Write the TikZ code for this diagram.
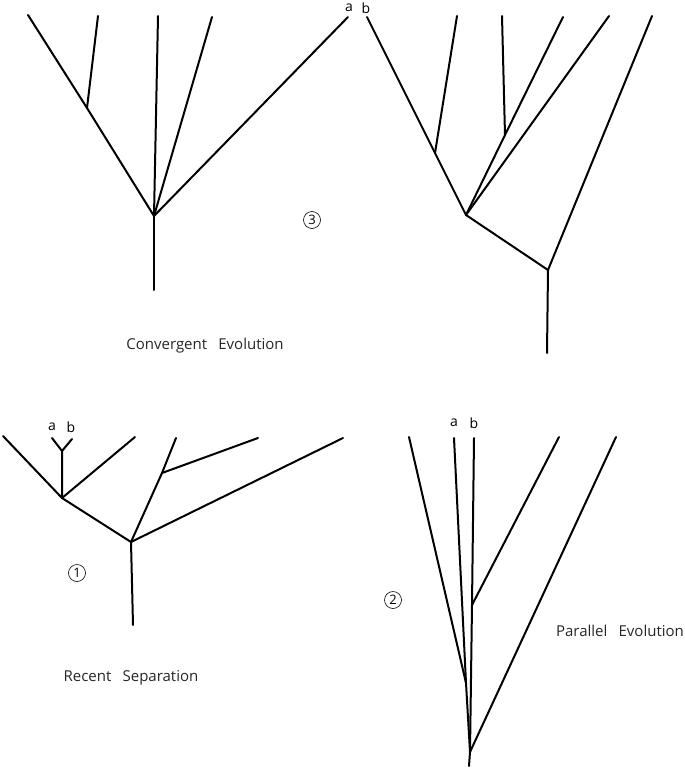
\documentclass[tikz,border=0pt]{standalone}
\usepackage{fontspec}
\setmainfont{Open Sans}
\begin{document}
\begin{tikzpicture}[x=1pt,y=-1pt,
  br/.style={line width=2pt, line cap=round},
  lab/.style={font=\fontsize{15}{17}\selectfont, text=black!85, inner sep=0pt},
  tip/.style={font=\fontsize{14}{16}\selectfont, inner sep=0pt},
  num/.style={circle, draw, line width=0.6pt, inner sep=0.6pt, minimum size=17pt, font=\fontsize{13}{14}\selectfont}]
\useasboundingbox (0,0) rectangle (685,768);
% ---- Tree 3a (top left)
\coordinate (A0) at (154,290);
\coordinate (Ar) at (154,216);
\coordinate (Ak) at (87,108);
\coordinate (A1) at (28,15);
\coordinate (A2) at (98,16);
\coordinate (A3) at (158,16);
\coordinate (A4) at (212,17);
\coordinate (A5) at (348,17);
\draw[br] (A0) -- (Ar);
\draw[br] (Ar) -- (Ak) -- (A1);
\draw[br] (Ak) -- (A2);
\draw[br] (Ar) -- (A3);
\draw[br] (Ar) -- (A4);
\draw[br] (Ar) -- (A5);
\node[tip] (la1) at (349,8) {a};
\node[tip] (lb1) at (366,8) {b};
\node[num] (n3) at (312,220) {3};
\node[lab] (t3) at (205,346) {Convergent\hspace{0.75em}Evolution};
% ---- Tree 3b (top right)
\coordinate (B0) at (547,353);
\coordinate (Bl) at (548,270);
\coordinate (Br) at (466,215);
\coordinate (Bk) at (435,153);
\coordinate (Bm) at (505,135);
\coordinate (B1) at (367,17);
\coordinate (B2) at (457,16);
\coordinate (B3) at (502,16);
\coordinate (B4) at (563,17);
\coordinate (B5) at (609,16);
\coordinate (B6) at (652,16);
\draw[br] (B0) -- (Bl) -- (Br);
\draw[br] (Br) -- (Bk) -- (B1);
\draw[br] (Bk) -- (B2);
\draw[br] (Br) -- (Bm) -- (B4);
\draw[br] (Bm) -- (B3);
\draw[br] (Br) -- (B5);
\draw[br] (Bl) -- (B6);
% ---- Tree 1 (bottom left)
\coordinate (C0) at (133,625);
\coordinate (Cr) at (131,542);
\coordinate (Cn) at (62,498);
\coordinate (Cy) at (62,451);
\coordinate (Ca) at (52,438);
\coordinate (Cb) at (72,439);
\coordinate (C1) at (3,436);
\coordinate (C2) at (135,437);
\coordinate (Ck) at (162,473);
\coordinate (C3) at (176,438);
\coordinate (C4) at (258,438);
\coordinate (C5) at (343,438);
\draw[br] (C0) -- (Cr) -- (Cn) -- (Cy);
\draw[br] (Ca) -- (Cy) -- (Cb);
\draw[br] (Cn) -- (C1);
\draw[br] (Cn) -- (C2);
\draw[br] (Cr) -- (Ck) -- (C3);
\draw[br] (Ck) -- (C4);
\draw[br] (Cr) -- (C5);
\node[tip] (la2) at (52,427) {a};
\node[tip] (lb2) at (71,427) {b};
\node[num] (n1) at (77,573) {1};
\node[lab] (t1) at (131,678) {Recent\hspace{0.75em}Separation};
% ---- Tree 2 (bottom right)
\coordinate (D0) at (469,766);
\coordinate (Dr) at (470,752);
\coordinate (Dn) at (466,683);
\coordinate (Dk) at (472,605);
\coordinate (D1) at (409,437);
\coordinate (D2) at (454,438);
\coordinate (D3) at (474,438);
\coordinate (D4) at (559,437);
\coordinate (D5) at (616,437);
\draw[br] (D0) -- (Dr) -- (Dn) -- (D1);
\draw[br] (Dn) -- (D2);
\draw[br] (Dr) -- (Dk) -- (D3);
\draw[br] (Dk) -- (D4);
\draw[br] (Dr) -- (D5);
\node[tip] (la3) at (454,423) {a};
\node[tip] (lb3) at (474,423) {b};
\node[num] (n2) at (393,600) {2};
\node[lab] (t2) at (620,631) {Parallel\hspace{0.75em}Evolution};
\end{tikzpicture}
\end{document}
